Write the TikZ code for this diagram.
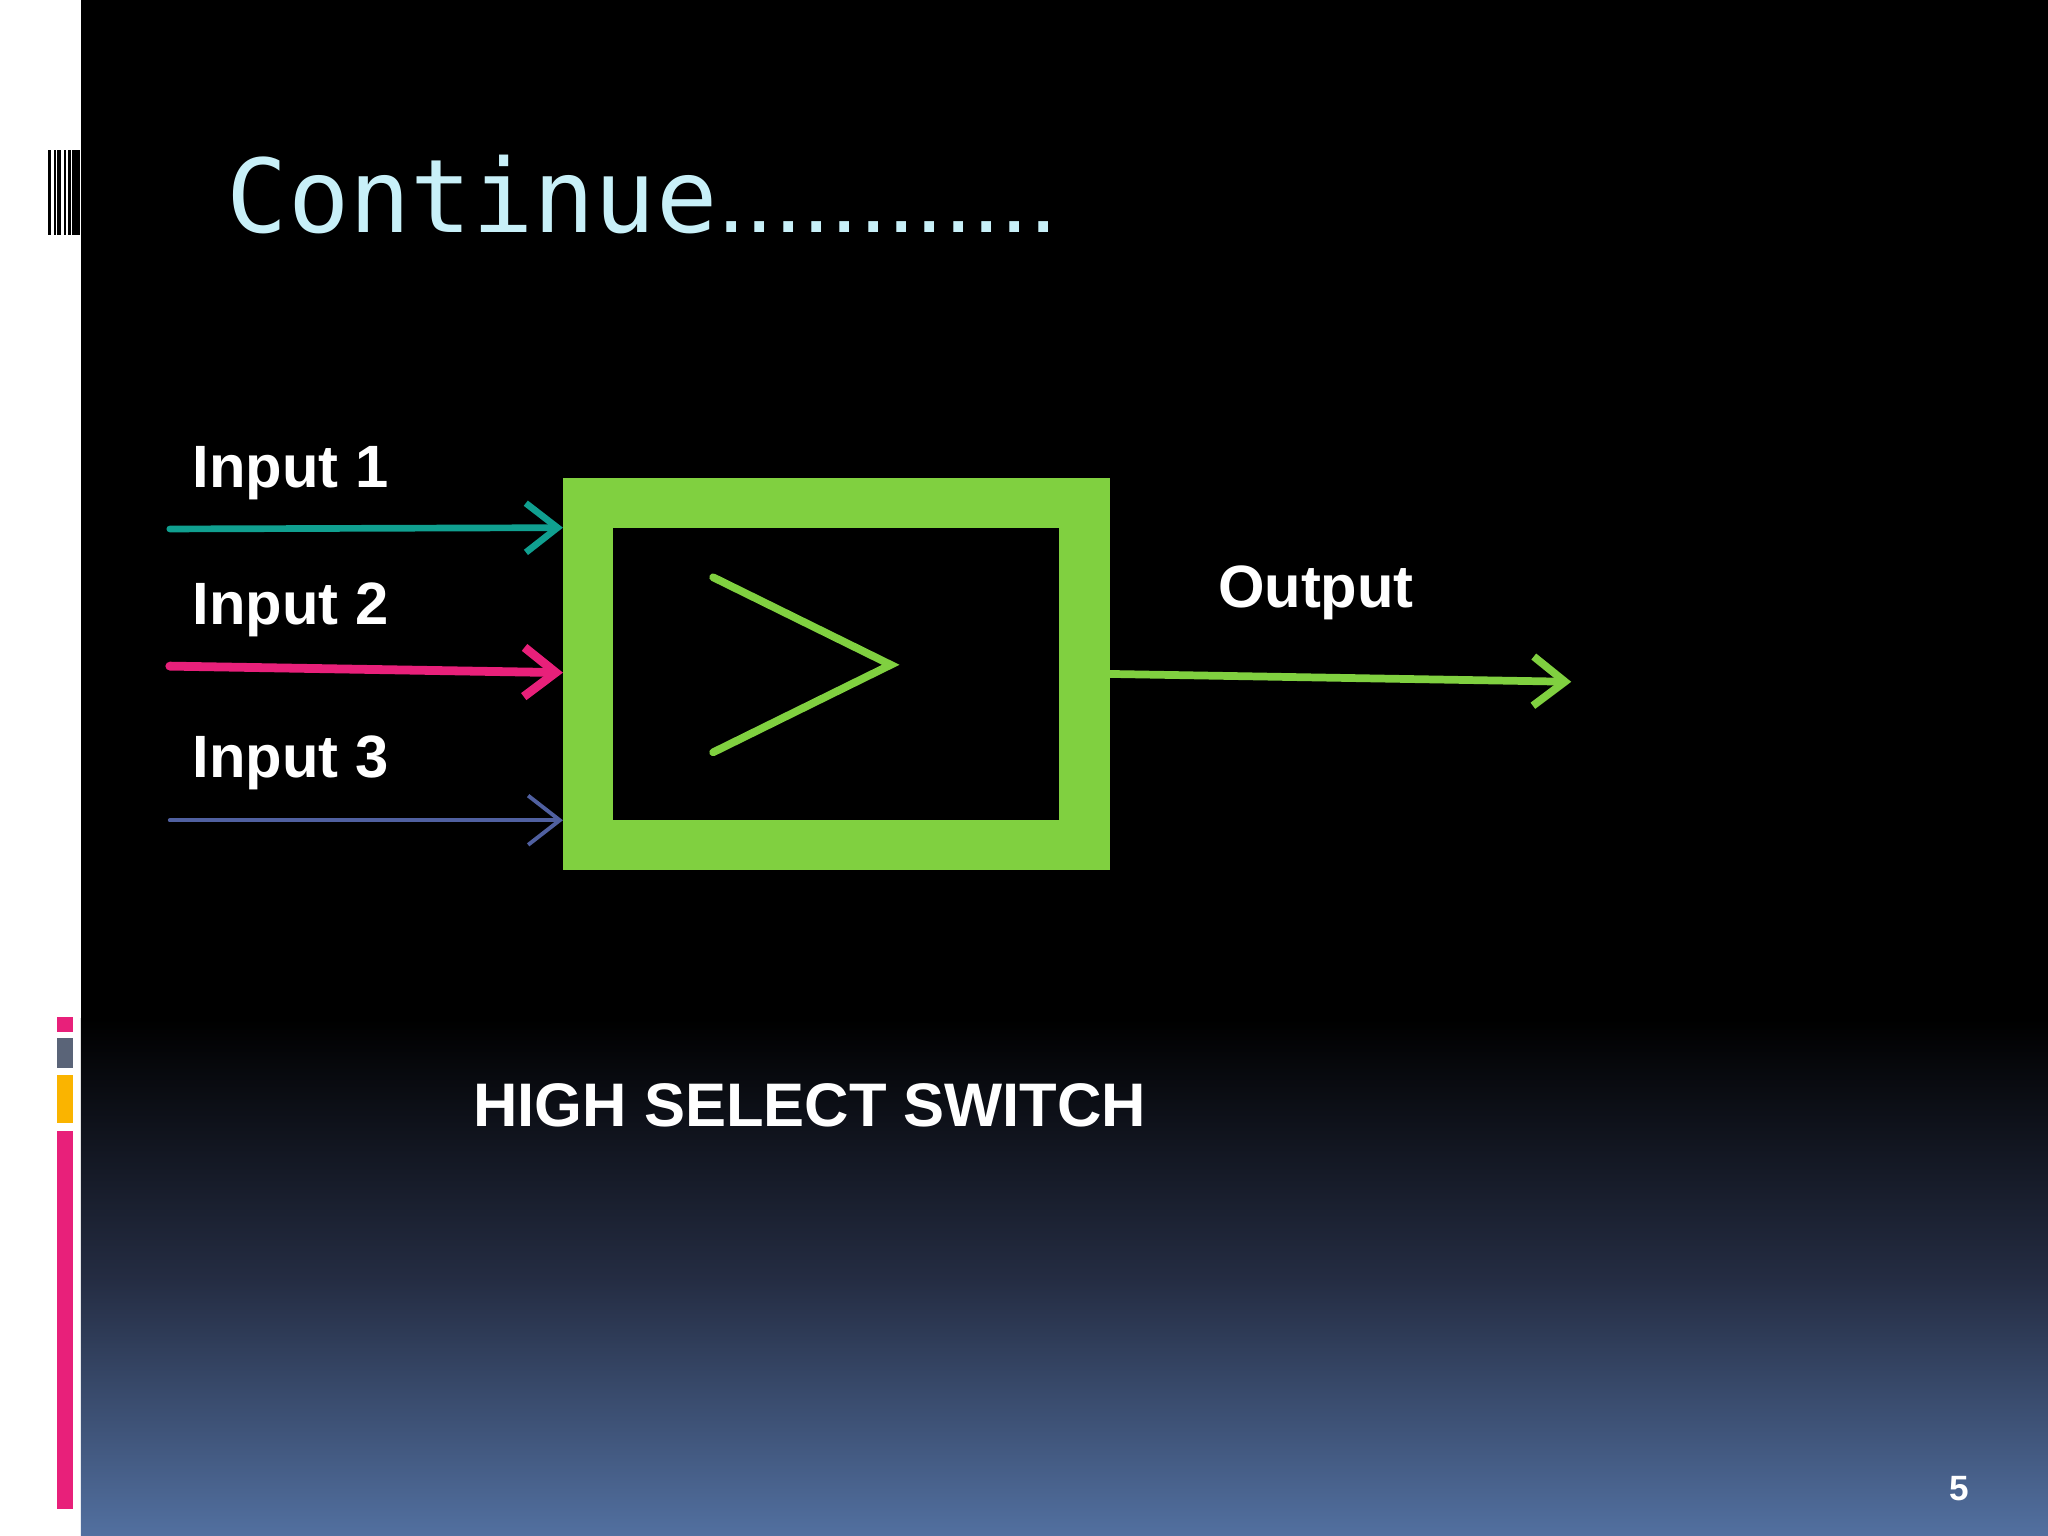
\documentclass[tikz,border=0pt]{standalone}
\usepackage{fontspec}
\setmainfont{Liberation Sans}
\newfontfamily\monofont{DejaVu Sans Mono}
\usetikzlibrary{arrows.meta}
\definecolor{boxgreen}{RGB}{128,208,64}
\definecolor{teal1}{RGB}{16,160,144}
\definecolor{pink1}{RGB}{232,32,122}
\definecolor{blue1}{RGB}{80,96,160}
\definecolor{titlecol}{RGB}{200,240,248}
\definecolor{bottomblue}{RGB}{82,112,160}
\definecolor{midblue}{RGB}{36,44,66}
\definecolor{orange1}{RGB}{250,180,0}
\definecolor{gray1}{RGB}{90,100,120}
\begin{document}
\begin{tikzpicture}[x=0.013061cm,y=-0.013061cm,
  lbl/.style={text=white,font=\bfseries\fontsize{17}{20}\selectfont,anchor=west,inner sep=0},
  arr/.style={-{Straight Barb[length=9pt,width=14pt]},line cap=round}]
\useasboundingbox (0,0) rectangle (1568,1176);
\fill[white] (0,0) rectangle (1568,1176);
\fill[black] (62,0) rectangle (1568,790);
\shade[top color=black,bottom color=bottomblue,middle color=midblue] (62,780) rectangle (1568,1176);
% left marks
\foreach \x/\w in {37/2,41/1.5,44/3,49/1.5,52/2,55/6} \fill[black] (\x,115) rectangle (\x+\w,180);
\fill[pink1] (44,779) rectangle (56,790);
\fill[gray1] (44,795) rectangle (56,818);
\fill[orange1] (44,823) rectangle (56,860);
\fill[pink1] (44,866) rectangle (56,1155);
% title
\node[anchor=base west,inner sep=0,text=titlecol] (title) at (173,178) {\fontsize{29}{34}\selectfont{\monofont Continue}............};
% box
\fill[boxgreen] (431,366) rectangle (850,666);
\fill[black] (469,404) rectangle (811,628);
\coordinate (boxw1) at (431,404);
\coordinate (boxw2) at (431,515);
\coordinate (boxw3) at (431,628);
\coordinate (boxe) at (850,516);
\draw[boxgreen,line width=2.2pt,line cap=round,line join=miter] (546,442) -- (682,509) -- (546,576);
% inputs
\coordinate (s1) at (130,405);
\coordinate (s2) at (130,510);
\coordinate (s3) at (130,628);
\coordinate (oe) at (1203,522);
\draw[arr,teal1,line width=1.9pt] (s1) -- (boxw1);
\draw[arr,pink1,line width=2.5pt] (s2) -- (boxw2);
\draw[arr,blue1,line width=1.1pt] (s3) -- (boxw3);
\draw[arr,boxgreen,line width=2.2pt] (boxe) -- (oe);
\node[lbl] (in1) at (147,362) {Input 1};
\node[lbl] (in2) at (147,467) {Input 2};
\node[lbl] (in3) at (147,584) {Input 3};
\node[lbl] (out) at (932,454) {Output};
\node[text=white,font=\bfseries\fontsize{17.5}{20}\selectfont,inner sep=0] (cap) at (620,846) {HIGH SELECT SWITCH};
\node[text=white,font=\bfseries\fontsize{10}{12}\selectfont,inner sep=0] (pg) at (1500,1140) {5};
\end{tikzpicture}
\end{document}
